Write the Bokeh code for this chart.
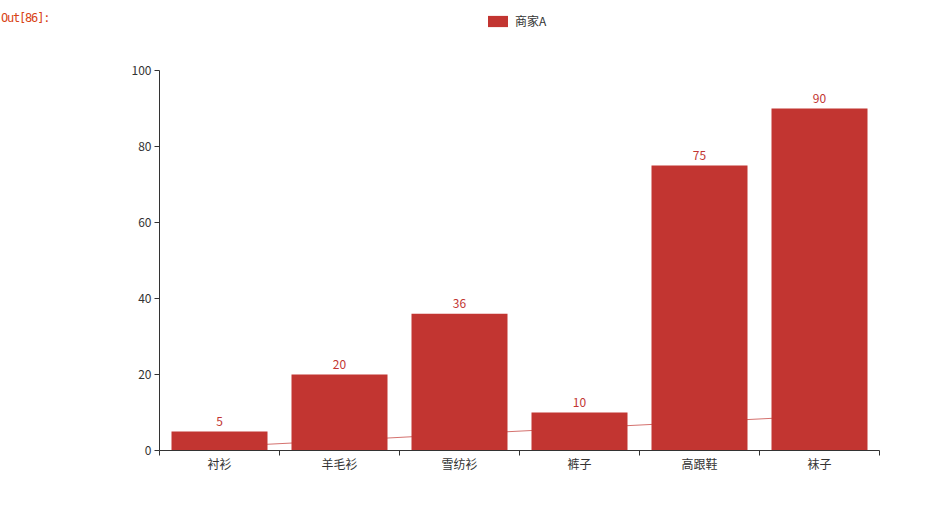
from bokeh.plotting import figure
from bokeh.models import ColumnDataSource, Range1d, FixedTicker, Legend, LegendItem, Div
from bokeh.layouts import row
from bokeh.core.properties import value
from bokeh.embed import file_html
from bokeh.resources import INLINE

# ---- data ----
categories = ["衬衫", "羊毛衫", "雪纺衫", "裤子", "高跟鞋", "袜子"]
sales_a = [5, 20, 36, 10, 75, 90]
trend_line = [1, 2.6, 4.3, 5.9, 7.5, 9.1]
y_ticks = [0, 20, 40, 60, 80, 100]
series_name = "商家A"
prompt_text = "Out[86]:"

RED = "#c23531"
AXIS = "#333333"
FONT = "Noto Sans CJK SC"

centers = [i + 0.5 for i in range(len(categories))]
bounds = list(range(len(categories) + 1))

src = ColumnDataSource(dict(x=centers, top=sales_a, lab=[str(v) for v in sales_a]))
lsrc = ColumnDataSource(dict(x=centers, y=trend_line))

# frame spans the full height above the x axis so the legend fits inside it;
# the y axis itself is limited to 0..100 with bounds
y_max = 100
frame_h = 450
px_per_unit = 380 / y_max
p = figure(width=882, height=500, output_backend="svg", toolbar_location=None, title=None,
           x_range=Range1d(0, len(categories)), y_range=Range1d(0, frame_h / px_per_unit),
           min_border_left=89, min_border_right=73, min_border_top=0, min_border_bottom=50,
           margin=0)
p.outline_line_color = None
p.grid.visible = False
p.background_fill_color = "white"
p.border_fill_color = "white"

# thin line behind bars
p.line("x", "y", source=lsrc, line_color=RED, line_width=1, line_alpha=0.7)

bars = p.vbar(x="x", top="top", width=0.8, bottom=0, source=src, fill_color=RED, line_color=None)

p.text(x="x", y="top", text="lab", source=src, text_align="center", text_baseline="bottom",
       y_offset=-6, text_color=RED, text_font_size="12px", text_font=value(FONT))

# axes
xa = p.xaxis[0]
xa.ticker = FixedTicker(ticks=centers, minor_ticks=bounds)
xa.major_label_overrides = {c: n for c, n in zip(centers, categories)}
xa.major_tick_out = 0
xa.major_tick_in = 0
xa.minor_tick_out = 5
xa.minor_tick_in = 0
xa.minor_tick_line_color = AXIS
xa.axis_line_color = AXIS
xa.major_label_text_color = AXIS
xa.major_label_text_font = FONT
xa.major_label_text_font_size = "12px"
xa.major_label_standoff = -1

ya = p.yaxis[0]
ya.ticker = FixedTicker(ticks=y_ticks)
ya.bounds = (0, y_max)
ya.major_tick_out = 5
ya.major_tick_in = 0
ya.minor_tick_out = 0
ya.minor_tick_in = 0
ya.axis_line_color = AXIS
ya.major_tick_line_color = AXIS
ya.major_label_text_color = AXIS
ya.major_label_text_font = FONT
ya.major_label_text_font_size = "12px"
ya.major_label_standoff = 3

legend = Legend(items=[LegendItem(label=series_name, renderers=[bars])],
                location=(326, 421), orientation="horizontal",
                glyph_width=25, glyph_height=14, label_height=14, label_standoff=5,
                padding=0, margin=0, border_line_color=None, background_fill_alpha=0,
                label_text_font=FONT, label_text_font_size="12px", label_text_color=AXIS)
p.add_layout(legend, "center")

prompt = Div(text=prompt_text, width=70, height=30, margin=0,
             styles={"color": "#d84315", "font-family": "'DejaVu Sans Mono', monospace",
                     "font-size": "12px", "letter-spacing": "-1.2px",
                     "padding-top": "10px", "padding-left": "1px"})

layout = row(prompt, p, margin=0, spacing=0)
open("out.html", "w").write(file_html(layout, INLINE))
